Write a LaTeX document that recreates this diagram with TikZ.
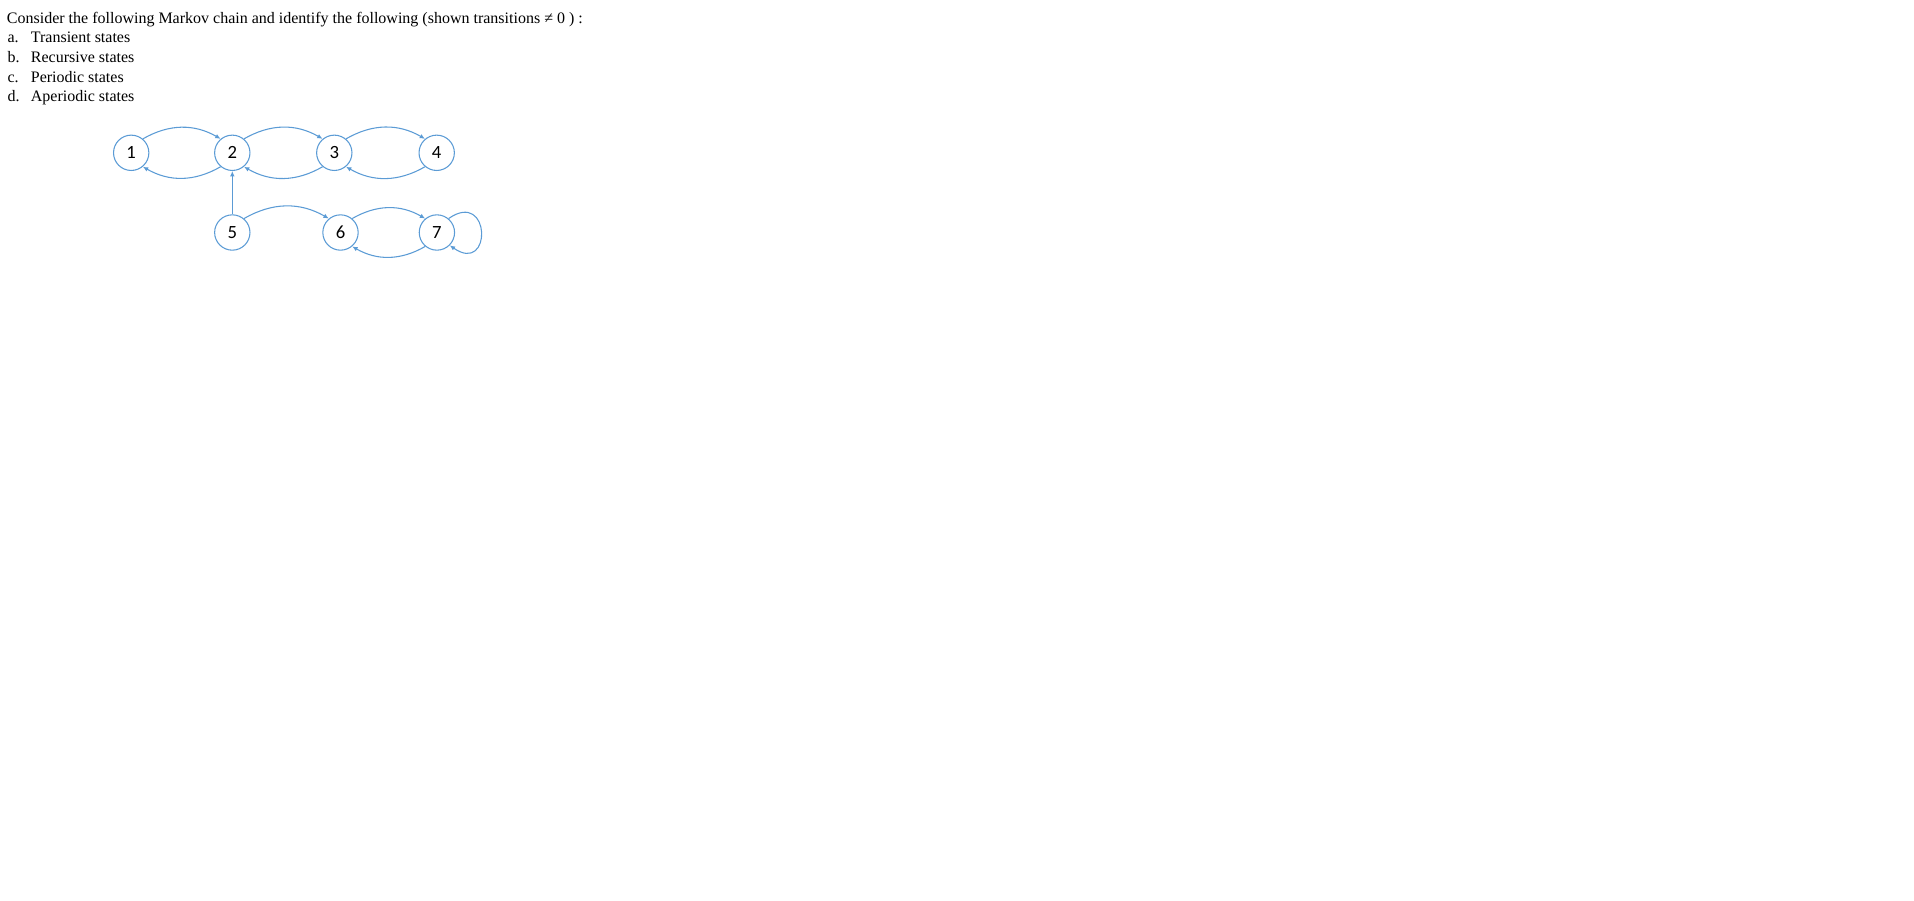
\documentclass[tikz,border=0pt]{standalone}
\usepackage{fontspec}
\setmainfont{Liberation Serif}
\newfontfamily\statefont{Carlito}
\usepackage{xcolor}
\usetikzlibrary{arrows.meta}
\usetikzlibrary{positioning}
\definecolor{chainblue}{RGB}{91,155,213}
\newcommand{\itemlabel}[1]{\makebox[17.5pt][l]{#1}}

\begin{document}
\begin{tikzpicture}[x=0.75pt,y=0.75pt,
    state/.style={circle,draw=chainblue,line width=0.8pt,minimum size=26.5pt,inner sep=0pt,font=\statefont\fontsize{14}{16}\selectfont},
    edge/.style={draw=chainblue,line width=0.8pt,-{Latex[length=4pt,width=3.5pt]}},
    question/.style={anchor=base west,inner sep=0pt,font=\fontsize{12}{14}\selectfont}]
    \useasboundingbox (0,0) rectangle (1914,-900);
    % question
    \node[question] (q0) at (6.7,-23.3) {Consider the following Markov chain and identify the following (shown transitions ≠ 0 ) :};
    \node[question] (qa) at (7.3,-42.9) {\itemlabel{a.}Transient states};
    \node[question] (qb) at (7.3,-62.5) {\itemlabel{b.}Recursive states};
    \node[question] (qc) at (7.3,-82.1) {\itemlabel{c.}Periodic states};
    \node[question] (qd) at (7.3,-101.7) {\itemlabel{d.}Aperiodic states};
    % states
    \node[state] (n1) at (131.2,-152.8) {1};
    \node[state] (n2) at (232.3,-152.8) {2};
    \node[state] (n3) at (334.3,-152.8) {3};
    \node[state] (n4) at (436.7,-152.8) {4};
    \node[state] (n5) at (232.3,-232.5) {5};
    \node[state] (n6) at (340.5,-232.5) {6};
    \node[state] (n7) at (436.9,-232.5) {7};
    % transitions
    \draw[edge] (n1.50) to[out=30,in=150] (n2.130);
    \draw[edge] (n2.230) to[out=-150,in=-30] (n1.-50);
    \draw[edge] (n2.50) to[out=30,in=150] (n3.130);
    \draw[edge] (n3.230) to[out=-150,in=-30] (n2.-50);
    \draw[edge] (n3.50) to[out=30,in=150] (n4.130);
    \draw[edge] (n4.230) to[out=-150,in=-30] (n3.-50);
    \draw[edge] (n5) -- (n2);
    \draw[edge] (n5.50) to[out=30,in=150] (n6.130);
    \draw[edge] (n6.50) to[out=30,in=150] (n7.130);
    \draw[edge] (n7.230) to[out=-150,in=-30] (n6.-50);
    \draw[edge] (n7.50) .. controls +(35:52) and +(-35:52) .. (n7.-45);
\end{tikzpicture}
\end{document}
